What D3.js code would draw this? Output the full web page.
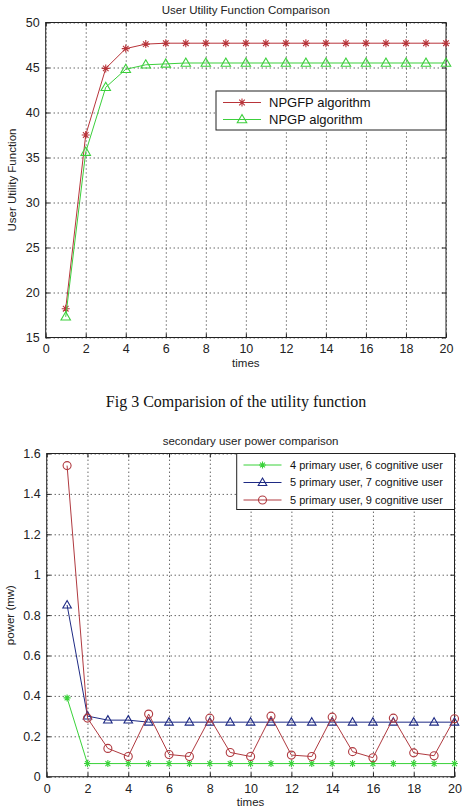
<!DOCTYPE html>
<html>
<head>
<meta charset="utf-8">
<script src="https://cdn.jsdelivr.net/npm/d3@7"></script>
<style>
  body { margin: 0; background: #fff; }
  text { font-family: "Liberation Sans", Arial, sans-serif; }
</style>
</head>
<body>
<div id="chart"></div>
<script>
// iterations shown on both charts
const times = d3.range(1, 21);

// Fig 3: user utility function
const npgfp = [18.2, 37.5, 44.9, 47.1, 47.6, 47.7, 47.7, 47.7, 47.7, 47.7,
               47.7, 47.7, 47.7, 47.7, 47.7, 47.7, 47.7, 47.7, 47.7, 47.7];
const npgp  = [17.3, 35.6, 42.8, 44.8, 45.3, 45.4, 45.5, 45.5, 45.5, 45.5,
               45.5, 45.5, 45.5, 45.5, 45.5, 45.5, 45.5, 45.5, 45.5, 45.5];

// secondary user power
const power46 = [0.39, 0.065, 0.065, 0.065, 0.065, 0.065, 0.065, 0.065, 0.065, 0.065,
                 0.065, 0.065, 0.065, 0.065, 0.065, 0.065, 0.065, 0.065, 0.065, 0.065];
const power57 = [0.85, 0.30, 0.28, 0.28, 0.27, 0.27, 0.27, 0.27, 0.27, 0.27,
                 0.27, 0.27, 0.27, 0.27, 0.27, 0.27, 0.27, 0.27, 0.27, 0.27];
const power59 = [1.54, 0.29, 0.14, 0.10, 0.31, 0.11, 0.10, 0.29, 0.12, 0.10,
                 0.30, 0.107, 0.10, 0.295, 0.124, 0.094, 0.29, 0.118, 0.104, 0.287];

const xTicks = d3.range(0, 21, 2);
const yTicksTop = d3.range(15, 51, 5);
const yTicksBottom = [0, 0.2, 0.4, 0.6, 0.8, 1, 1.2, 1.4, 1.6];

const width = 474, height = 809;

const svg = d3.select("#chart")
  .append("svg")
    .attr("width", width)
    .attr("height", height);

// MATLAB style "*" : plus and cross together
const star = (r) => `M${-r},0L${r},0M0,${-r}L0,${r}` +
  `M${-r*0.7},${-r*0.7}L${r*0.7},${r*0.7}M${-r*0.7},${r*0.7}L${r*0.7},${-r*0.7}`;
const triangle = (r) => `M0,${-r}L${r*0.95},${r*0.65}L${-r*0.95},${r*0.65}Z`;
const circle = (r) => d3.symbol(d3.symbolCircle, Math.PI * r * r)();

function panel(opt) {
  const g = svg.append("g");
  const m = opt.box;

  const x = d3.scaleLinear().domain([0, 20]).range([m.left, m.right]);
  const y = d3.scaleLinear().domain(opt.yDomain).range([m.bottom, m.top]);

  // dotted grid
  g.append("g")
    .attr("transform", `translate(0,${m.bottom})`)
    .call(d3.axisBottom(x).tickValues(xTicks).tickSize(-(m.bottom - m.top)).tickFormat(""))
    .call(a => a.select(".domain").remove())
    .call(a => a.selectAll("line").attr("stroke", "#222").attr("stroke-dasharray", "1,3"));
  g.append("g")
    .attr("transform", `translate(${m.left},0)`)
    .call(d3.axisLeft(y).tickValues(opt.yTicks).tickSize(-(m.right - m.left)).tickFormat(""))
    .call(a => a.select(".domain").remove())
    .call(a => a.selectAll("line").attr("stroke", "#222").attr("stroke-dasharray", "1,3"));

  // tick labels + inward ticks
  const xAxis = g.append("g")
    .attr("transform", `translate(0,${m.bottom})`)
    .call(d3.axisBottom(x).tickValues(xTicks).tickSize(-4).tickPadding(7));
  const yAxis = g.append("g")
    .attr("transform", `translate(${m.left},0)`)
    .call(d3.axisLeft(y).tickValues(opt.yTicks).tickSize(-4).tickPadding(6).tickFormat(d3.format("~g")));
  g.append("g")
    .attr("transform", `translate(0,${m.top})`)
    .call(d3.axisTop(x).tickValues(xTicks).tickSize(-4).tickFormat(""));
  g.append("g")
    .attr("transform", `translate(${m.right},0)`)
    .call(d3.axisRight(y).tickValues(opt.yTicks).tickSize(-4).tickFormat(""));
  g.selectAll(".domain").remove();
  g.selectAll(".tick line").filter(function () { return !this.getAttribute("stroke-dasharray"); })
    .attr("stroke", "#222");
  [xAxis, yAxis].forEach(a => a.selectAll("text")
    .attr("fill", "#222").style("font-size", "12.5px"));

  // frame
  g.append("rect")
    .attr("x", m.left).attr("y", m.top)
    .attr("width", m.right - m.left).attr("height", m.bottom - m.top)
    .attr("fill", "none").attr("stroke", "#222").attr("stroke-width", 1);

  // series
  const line = d3.line().x((d, i) => x(times[i])).y(d => y(d));
  opt.series.forEach(s => {
    g.append("path")
      .attr("d", line(s.values))
      .attr("fill", "none")
      .attr("stroke", s.color)
      .attr("stroke-width", 1);
    g.selectAll(null)
      .data(s.values)
      .join("path")
        .attr("transform", (d, i) => `translate(${x(times[i])},${y(d)})`)
        .attr("d", s.marker)
        .attr("fill", "none")
        .attr("stroke", s.color)
        .attr("stroke-width", 1.1);
  });

  // titles
  g.append("text")
    .attr("x", (m.left + m.right) / 2).attr("y", m.top - 9)
    .attr("text-anchor", "middle")
    .style("font-size", "11.5px").attr("fill", "#222")
    .text(opt.title);
  g.append("text")
    .attr("x", (m.left + m.right) / 2).attr("y", opt.xLabelY)
    .attr("text-anchor", "middle")
    .style("font-size", "11.5px").attr("fill", "#222")
    .text("times");
  g.append("text")
    .attr("transform", `translate(${opt.yLabelX},${(m.top + m.bottom) / 2}) rotate(-90)`)
    .attr("text-anchor", "middle")
    .style("font-size", "11.5px").attr("fill", "#222")
    .text(opt.yLabel);

  // legend
  const L = opt.legend;
  const lg = g.append("g");
  lg.append("rect")
    .attr("x", L.x0).attr("y", L.y0)
    .attr("width", L.x1 - L.x0).attr("height", L.y1 - L.y0)
    .attr("fill", "#fff").attr("stroke", "#222");
  opt.series.forEach((s, i) => {
    const yy = L.rows[i];
    lg.append("line")
      .attr("x1", L.lineX0).attr("x2", L.lineX1)
      .attr("y1", yy).attr("y2", yy)
      .attr("stroke", s.color);
    lg.append("path")
      .attr("transform", `translate(${(L.lineX0 + L.lineX1) / 2},${yy})`)
      .attr("d", s.marker)
      .attr("fill", "none").attr("stroke", s.color).attr("stroke-width", 1.1);
    lg.append("text")
      .attr("x", L.textX).attr("y", yy).attr("dy", "0.35em")
      .style("font-size", L.fontSize).attr("fill", "#111")
      .text(s.name);
  });
}

panel({
  box: {left: 45.7, right: 446, top: 22.5, bottom: 337.5},
  yDomain: [15, 50],
  yTicks: yTicksTop,
  title: "User Utility Function Comparison",
  yLabel: "User Utility Function",
  yLabelX: 16,
  xLabelY: 367,
  series: [
    {name: "NPGFP algorithm", values: npgfp, color: "#b8343a", marker: star(4)},
    {name: "NPGP algorithm", values: npgp, color: "#3ccf3c", marker: triangle(5)}
  ],
  legend: {x0: 216, x1: 446, y0: 91, y1: 130, rows: [102.5, 119.5],
           lineX0: 223, lineX1: 261, textX: 269, fontSize: "13px"}
});

svg.append("text")
  .attr("x", 236).attr("y", 407)
  .attr("text-anchor", "middle")
  .style("font-family", "'Liberation Serif', 'Times New Roman', serif")
  .style("font-size", "16px")
  .attr("fill", "#111")
  .text("Fig 3 Comparision of the utility function");

panel({
  box: {left: 46.7, right: 454.5, top: 453.5, bottom: 776.7},
  yDomain: [0, 1.6],
  yTicks: yTicksBottom,
  title: "secondary user power comparison",
  yLabel: "power (mw)",
  yLabelX: 14,
  xLabelY: 806,
  series: [
    {name: "4 primary user, 6 cognitive user", values: power46, color: "#3ad23a", marker: star(3.5)},
    {name: "5 primary user, 7 cognitive user", values: power57, color: "#1e2a84", marker: triangle(4.5)},
    {name: "5 primary user, 9 cognitive user", values: power59, color: "#b03a40", marker: circle(4)}
  ],
  legend: {x0: 236.7, x1: 454.5, y0: 453.5, y1: 509.5, rows: [465, 482.5, 500],
           lineX0: 243.5, lineX1: 281.5, textX: 290, fontSize: "11px"}
});
</script>
</body>
</html>
